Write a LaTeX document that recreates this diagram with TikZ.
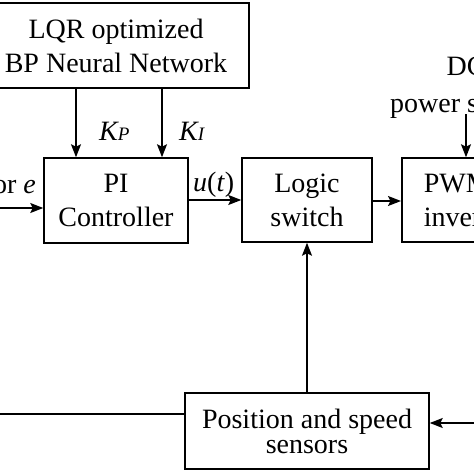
\documentclass[tikz,border=0pt]{standalone}
\usepackage{fontspec}
\setmainfont{Liberation Serif}
\usetikzlibrary{arrows.meta}
\begin{document}
\begin{tikzpicture}[x=1pt,y=-1pt,
  every node/.style={font=\fontsize{28}{34}\selectfont},
  blk/.style={draw, line width=1.5pt, inner sep=0pt, align=center},
  arr/.style={line width=1.5pt, -{Stealth[length=13pt,width=10pt,inset=2.5pt]}},
  ln/.style={line width=1.5pt},
  lbl/.style={inner sep=0pt}]
\useasboundingbox (0,0) rectangle (474,474);
\clip (0,0) rectangle (474,474);
\fill[white] (0,0) rectangle (474,474);
% blocks
\node[blk, minimum width=266pt, minimum height=85pt] (lqr) at (116,45.5) {LQR optimized\\BP Neural Network};
\node[blk, minimum width=144pt, minimum height=85pt] (pi) at (116,200.5) {PI\\Controller};
\node[blk, minimum width=130pt, minimum height=84pt] (logic) at (307,200) {Logic\\switch};
\node[blk, align=left, text width=90pt, inner xsep=22pt, inner ysep=0pt, minimum height=84pt, anchor=west] (pwm) at (401,200) {PWM\\inverter};
\node[blk, minimum width=244pt, minimum height=76pt, font=\fontsize{28}{25}\selectfont] (sens) at (307,431) {Position and speed\\sensors};
\node[lbl, align=center, anchor=base, font=\fontsize{28}{37}\selectfont] (dc) at (466,112) {DC\\power supply};
% labels
\node[lbl, anchor=base west] (kp) at (99,140) {\itshape K{\fontsize{19}{19}\selectfont P}};
\node[lbl, anchor=base west] (ki) at (179,140) {\itshape K{\fontsize{19}{19}\selectfont I}};
\node[lbl, anchor=base west] (ut) at (193,191) {\textit{u}(\textit{t})};
\node[lbl, anchor=base east] (err) at (36,193) {error \textit{e}};
% coordinates
\coordinate (xkp) at (76,0);
\coordinate (xki) at (162,0);
\coordinate (ein) at (0,208);
\coordinate (uy) at (0,200);
\coordinate (ly) at (0,201);
\coordinate (dcin) at (466,114);
\coordinate (fbl) at (0,414);
\coordinate (rin) at (474,423);
% connectors
\draw[arr] (xkp |- lqr.south) -- (xkp |- pi.north);
\draw[arr] (xki |- lqr.south) -- (xki |- pi.north);
\draw[arr] (ein) -- (ein -| pi.west);
\draw[arr] (uy -| pi.east) -- (uy -| logic.west);
\draw[arr] (ly -| logic.east) -- (ly -| pwm.west);
\draw[arr] (dcin) -- (dcin |- pwm.north);
\draw[arr] (sens.north) -- (logic.south);
\draw[ln] (fbl) -- (fbl -| sens.west);
\draw[arr] (rin) -- (rin -| sens.east);
\end{tikzpicture}
\end{document}
